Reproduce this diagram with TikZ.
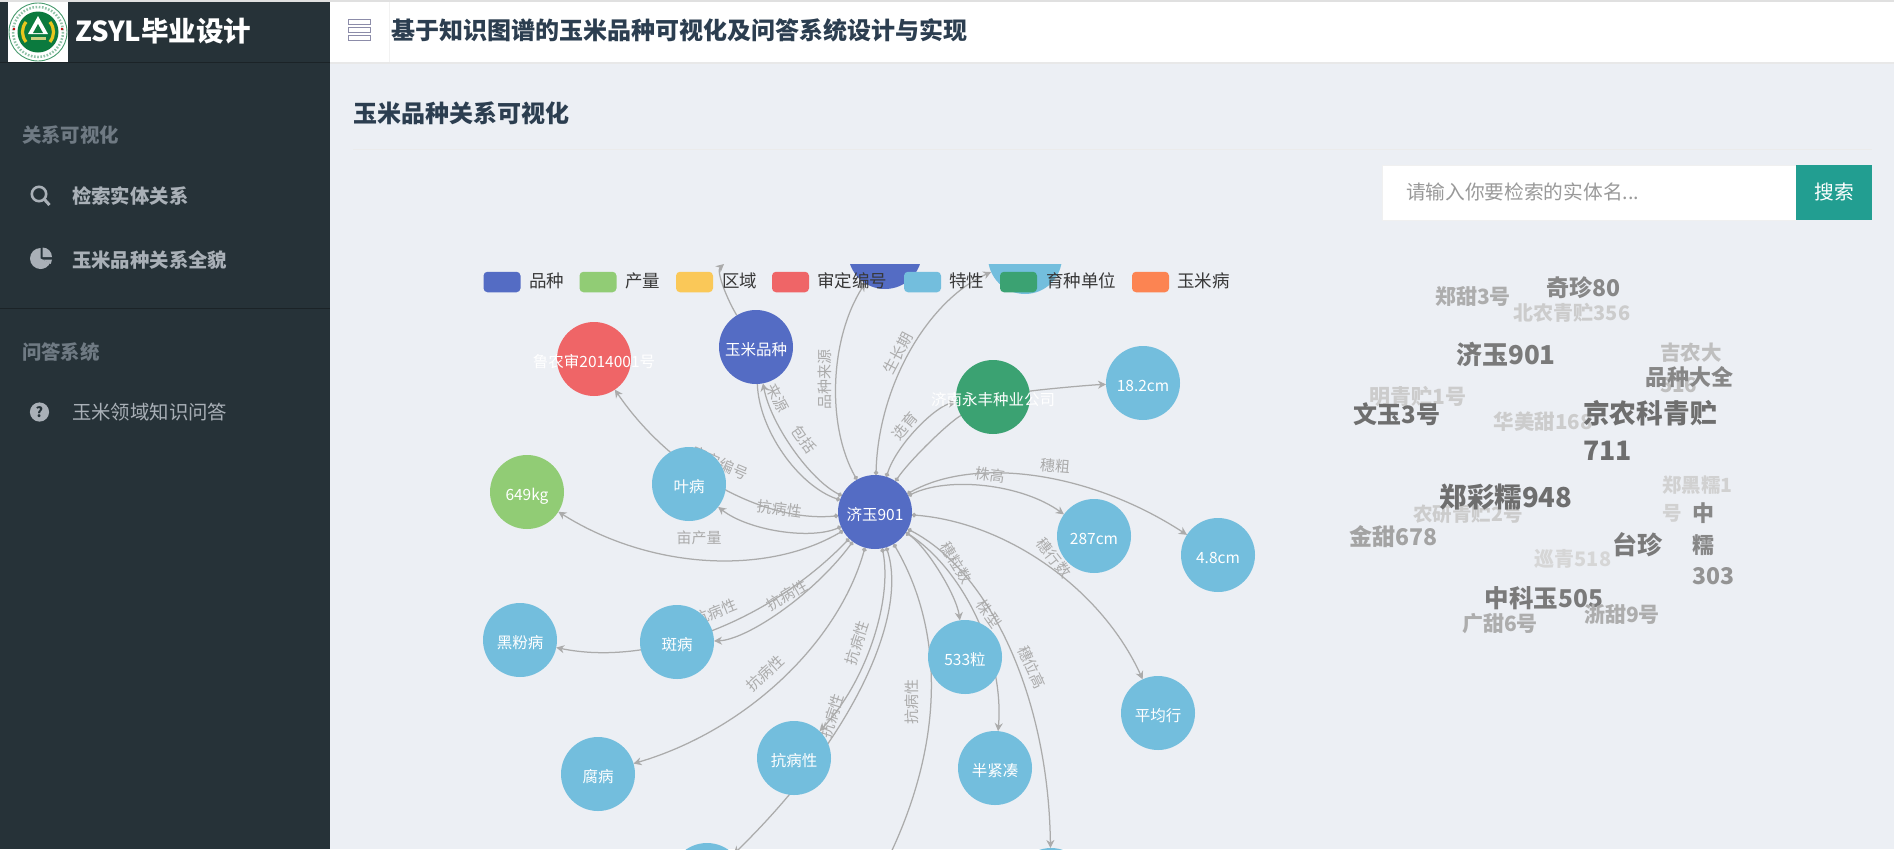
\documentclass[tikz,border=0pt]{standalone}
\usepackage{fontspec}
\setmainfont{Noto Sans CJK SC}
\usetikzlibrary{calc,arrows.meta}
\definecolor{side}{HTML}{263238}
\definecolor{pagebg}{HTML}{ECEFF4}
\definecolor{ink}{HTML}{2C3E50}
\definecolor{edgec}{HTML}{ABABAB}
\definecolor{c1}{HTML}{546CC4}
\definecolor{c2}{HTML}{91CC75}
\definecolor{c3}{HTML}{FAC858}
\definecolor{c4}{HTML}{EF6567}
\definecolor{c5}{HTML}{73BEDD}
\definecolor{c6}{HTML}{3BA272}
\definecolor{c7}{HTML}{FC8452}
\definecolor{sidehead}{HTML}{6F7A83}
\definecolor{sidetext}{HTML}{A9B0B7}
\definecolor{teal2}{HTML}{229E91}
\definecolor{sealg}{HTML}{0B7A3E}
\definecolor{sealy}{HTML}{E8C61E}
\newcommand\fs[1]{\fontsize{#1}{#1}\selectfont}
\newcommand\cedge[4][]{\draw[cline,#1] (#2) .. controls ($1.3333*(#3)-0.3333*(#4)$) and ($1.3333*(#3)-0.3333*(#2)$) .. (#4);}
\pgfdeclarelayer{pagel}
\pgfdeclarelayer{edges}
\pgfsetlayers{pagel,edges,main}
\tikzset{
  x=1pt,y=-1pt,
  txt/.style={inner sep=0pt,outer sep=0pt},
  gnode/.style={circle,minimum size=74pt,inner sep=0pt,outer sep=0pt,text=white,font=\fs{15.5},text height=16pt,text depth=0pt},
  cline/.style={draw=edgec,line width=1.25pt,arrows={{Circle[length=4.5pt]}-{Stealth[length=8pt,width=8pt,inset=2.5pt]}}},
  toend/.style={arrows={-{Stealth[length=8pt,width=8pt,inset=2.5pt]}}},
  dotend/.style={arrows={-{Circle[length=4.5pt]}}},
  dotstart/.style={arrows={{Circle[length=4.5pt]}-}},
  elab/.style={txt,text=edgec,font=\fs{15}},
  legbox/.style={rounded corners=4pt,minimum width=37pt,minimum height=20.5pt,inner sep=0pt},
  legtxt/.style={txt,text=black!78,font=\fs{17.5},anchor=west},
  wc/.style={txt,font=\bfseries\fs{#1}},
  sidem/.style={txt,anchor=west,text=sidetext,font=\bfseries\fs{19.4}},
  sideh/.style={txt,anchor=west,text=sidehead,font=\bfseries\fs{19.4}},
}
\begin{document}
\begin{tikzpicture}
\useasboundingbox (0,0) rectangle (1894,849);
% page
\begin{pgfonlayer}{pagel}
\fill[pagebg] (0,0) rectangle (1894,849);
\end{pgfonlayer}
\fill[black!12] (0,0) rectangle (1894,2);
\fill[side] (0,2) rectangle (330,849);
\fill[white] (330,2) rectangle (1894,62);
\fill[black!9] (330,62) rectangle (1894,64);
\draw[black!5,line width=1pt] (389,2) -- (389,62);
\draw[black!30!side,line width=.6pt] (0,62) -- (330,62);
\draw[black!30!side,line width=.8pt] (0,308) -- (330,308);
% logo
\fill[white] (8,2) rectangle (68,62);
\draw[sealg!75,line width=.9pt] (38,32) circle[radius=29];
\draw[sealg!45,line width=2.5pt,dash pattern=on 1.6pt off 1.6pt] (38,32) circle[radius=25];
\fill[sealg] (38,32) circle[radius=20.5];
\draw[sealy,line width=3.2pt] (26.1,22) arc[start angle=-140,end angle=-220,radius=15.5];
\draw[sealy,line width=3.2pt] (49.9,22) arc[start angle=-40,end angle=40,radius=15.5];
\fill[white] (38,16) -- (48,34) -- (28,34) -- cycle;
\fill[sealg] (38,24) -- (43,33) -- (33,33) -- cycle;
\fill[sealg!30!sealy!60!white] (31,37) rectangle (46,40);
\fill[red!75!black] (14,29) circle[radius=1.3] (62,29) circle[radius=1.3];
% header
\node[txt,anchor=west,text=white,font=\bfseries\fs{27.5}] (brand) at (75,31.5) {ZSYL毕业设计};
\foreach \yy in {19,27,35}{\draw[draw=blue!25!black!45,fill=white,line width=.9pt] (348.5,\yy) rectangle (370.5,\yy+5);}
\node[txt,anchor=west,text=ink,font=\bfseries\fs{24}] (maintitle) at (391,30) {基于知识图谱的玉米品种可视化及问答系统设计与实现};
\node[txt,anchor=west,text=ink,font=\bfseries\fs{24}] (pagetitle) at (353,113) {玉米品种关系可视化};
\draw[black!8,line width=1pt] (353,149) -- (1872,149);
% sidebar
\node[sideh] (s1) at (22,135) {关系可视化};
\node[sidem] (s2) at (72,196) {检索实体关系};
\node[sidem] (s3) at (72,260) {玉米品种关系全貌};
\node[sideh] (s4) at (22,352) {问答系统};
\node[sidem,font=\fs{19.4}] (s5) at (72,412) {玉米领域知识问答};
\draw[sidetext,line width=2.6pt] (39,194) circle[radius=7.2];
\draw[sidetext,line width=3pt] (44.5,199.5) -- (49.5,205);
\fill[sidetext] (40.5,258.5) -- (40.5,248) arc[start angle=-90,end angle=-335,radius=10.5] -- cycle;
\fill[sidetext] (42.5,257) -- (42.5,247.5) arc[start angle=-90,end angle=0,radius=9.5] -- cycle;
\fill[sidetext] (43,259.5) -- (52,259.5) arc[start angle=0,end angle=30,radius=9] -- cycle;
\fill[sidetext] (39.5,412) circle[radius=9.6];
\node[txt,text=side,font=\bfseries\fs{14}] (qm) at (39.5,412) {?};
% search
\draw[fill=white,draw=black!6,line width=.8pt] (1382,165) rectangle (1796,220);
\fill[teal2] (1796,165) rectangle (1872,220);
\node[txt,anchor=west,text=black!40,font=\fs{19.7}] (ph) at (1406,192) {请输入你要检索的实体名...};
\node[txt,text=white,font=\fs{19.7}] (go) at (1834.5,192) {搜索};
% graph nodes
\begin{scope}
\clip (330,264) rectangle (1894,849);
\node[gnode,fill=c1] (jy) at (875,512) {济玉901};
\node[gnode,fill=c4] (ln) at (594,359) {\makebox[0pt]{鲁农审2014001号}};
\node[gnode,fill=c1] (ym) at (756,347) {玉米品种};
\node[gnode,fill=c2] (kg) at (527,492) {649kg};
\node[gnode,fill=c5] (yb) at (689,484) {叶病};
\node[gnode,fill=c1] (tb) at (885,252) {};
\node[gnode,fill=c5] (tl) at (1025,257) {};
\node[gnode,fill=c6] (jn) at (993,397) {\makebox[0pt]{济南永丰种业公司}};
\node[gnode,fill=c5] (a18) at (1143,383) {18.2cm};
\node[gnode,fill=c5] (a287) at (1094,536) {287cm};
\node[gnode,fill=c5] (a48) at (1218,555) {4.8cm};
\node[gnode,fill=c5] (hf) at (520,640) {黑粉病};
\node[gnode,fill=c5] (bb) at (677,642) {斑病};
\node[gnode,fill=c5] (fb) at (598,774) {腐病};
\node[gnode,fill=c5] (kb) at (794,758) {抗病性};
\node[gnode,fill=c5] (bl) at (707,880) {};
\node[gnode,fill=c5] (a533) at (965,657) {533粒};
\node[gnode,fill=c5] (bj) at (995,768) {半紧凑};
\node[gnode,fill=c5] (pj) at (1158,713) {平均行};
\node[gnode,fill=c5] (br) at (1051,885) {};
\end{scope}
\coordinate (topa) at (724,264);
\coordinate (lost) at (850,925);
\begin{pgfonlayer}{edges}
\begin{scope}
\clip (330,264) rectangle (1894,849);
\cedge{jy}{722,482}{ln}
\cedge{jy}{780,526}{yb}
\cedge{jy}{706,555}{kg}
\cedge{jy}{797,447}{ym}
\cedge[dotend]{ym}{788,451}{jy}
\cedge[toend]{ym}{726,290}{topa}
\cedge{jy}{841,382}{tb}
\cedge{jy}{915,353}{tl}
\cedge{jy}{921,432}{jn}
\cedge[dotend]{jn}{930,445}{jy}
\cedge[toend]{jn}{1065,388}{a18}
\cedge{jy}{985,491}{a287}
\cedge{jy}{1035,481}{a48}
\cedge{jy}{1045,570}{pj}
\cedge{jy}{972,620}{bj}
\cedge{jy}{936,574}{a533}
\cedge{jy}{1005,650}{br}
\cedge[dotstart]{jy}{927,715}{lost}
\cedge{jy}{705,628}{hf}
\cedge{jy}{778,608}{bb}
\cedge{jy}{778,676}{fb}
\cedge{jy}{868,640}{kb}
\cedge{jy}{858,682}{bl}
% edge labels
\node[elab,rotate=-23] (l1) at (720,463) {审定编号};
\node[elab,rotate=-8] (l2) at (780,509) {抗病性};
\node[elab] (l3) at (699,538) {亩产量};
\node[elab,rotate=-62] (l4) at (778,398) {来源};
\node[elab,rotate=-55] (l5) at (804,439) {包括};
\node[elab,rotate=90] (l6) at (825,379) {品种来源};
\node[elab,rotate=62] (l7) at (898,353) {生长期};
\node[elab,rotate=50] (l8) at (905,426) {选育};
\node[elab,rotate=-8] (l9) at (990,475) {株高};
\node[elab,rotate=-5] (l10) at (1055,466) {穗粗};
\node[elab,rotate=-52] (l11) at (1054,558) {穗行数};
\node[elab,rotate=-58] (l12) at (956,563) {穗粒数};
\node[elab,rotate=-55] (l13) at (989,614) {株型};
\node[elab,rotate=-65] (l14) at (1032,667) {穗位高};
\node[elab,rotate=90] (l15) at (912,702) {抗病性};
\node[elab,rotate=22] (l16) at (715,612) {抗病性};
\node[elab,rotate=30] (l17) at (787,595) {抗病性};
\node[elab,rotate=42] (l18) at (765,673) {抗病性};
\node[elab,rotate=72] (l19) at (857,643) {抗病性};
\node[elab,rotate=72] (l20) at (832,716) {抗病性};
\end{scope}
\end{pgfonlayer}
% legend
\node[legbox,fill=c1] (k1) at (502,282) {};
\node[legbox,fill=c2] (k2) at (598,282) {};
\node[legbox,fill=c3] (k3) at (694.5,282) {};
\node[legbox,fill=c4] (k4) at (790.5,282) {};
\node[legbox,fill=c5] (k5) at (922.5,282) {};
\node[legbox,fill=c6] (k6) at (1018.5,282) {};
\node[legbox,fill=c7] (k7) at (1150.5,282) {};
\node[legtxt] (t1) at (529,281) {品种};
\node[legtxt] (t2) at (625,281) {产量};
\node[legtxt] (t3) at (722,281) {区域};
\node[legtxt] (t4) at (817,281) {审定编号};
\node[legtxt] (t5) at (949,281) {特性};
\node[legtxt] (t6) at (1046,281) {育种单位};
\node[legtxt] (t7) at (1177,281) {玉米病};
% word cloud
\node[wc=20.5,text=black!20] (w1) at (1543,422) {华美甜168};
\node[wc=19.5,text=black!20] (w2) at (1468,514) {农研青贮2号};
\node[wc=20.5,text=black!25] (w3) at (1691,353) {吉农大};
\node[wc=20.5,text=black!25,anchor=west] (w4) at (1660,385) {516};
\node[wc=21,text=black!32] (w5) at (1473,296) {郑甜3号};
\node[wc=23,text=black!47] (w6) at (1583,288) {奇珍80};
\node[wc=20,text=black!20] (w7) at (1572,313) {北农青贮356};
\node[wc=26,text=black!52] (w8) at (1506,354) {济玉901};
\node[wc=22,text=black!47] (w9) at (1689,377) {品种大全};
\node[wc=21,text=black!20] (w10) at (1418,396) {明青贮1号};
\node[wc=24,text=black!57] (w11) at (1397,414) {文玉3号};
\node[wc=26.7,text=black!57] (w12) at (1650,413) {京农科青贮};
\node[wc=26.7,text=black!57,anchor=west] (w13) at (1583,451) {711};
\node[wc=27.5,text=black!57] (w14) at (1506,497) {郑彩糯948};
\node[wc=19.5,text=black!18,anchor=west] (w15) at (1662,485) {郑黑糯1};
\node[wc=19.5,text=black!18,anchor=west] (w16) at (1662,513) {号};
\node[wc=23,text=black!36] (w17) at (1393,537) {金甜678};
\node[wc=22,text=black!47,anchor=west] (w18) at (1692,513) {中};
\node[wc=22,text=black!47,anchor=west] (w19) at (1692,545) {糯};
\node[wc=23,text=black!42,anchor=west] (w20) at (1692,576) {303};
\node[wc=25,text=black!52] (w21) at (1637,545) {台珍};
\node[wc=20,text=black!16] (w22) at (1573,559) {巡青518};
\node[wc=24.5,text=black!52] (w23) at (1544,598) {中科玉505};
\node[wc=21,text=black!32] (w24) at (1622,614) {浙甜9号};
\node[wc=21,text=black!32] (w25) at (1500,624) {广甜6号};
\end{tikzpicture}
\end{document}
